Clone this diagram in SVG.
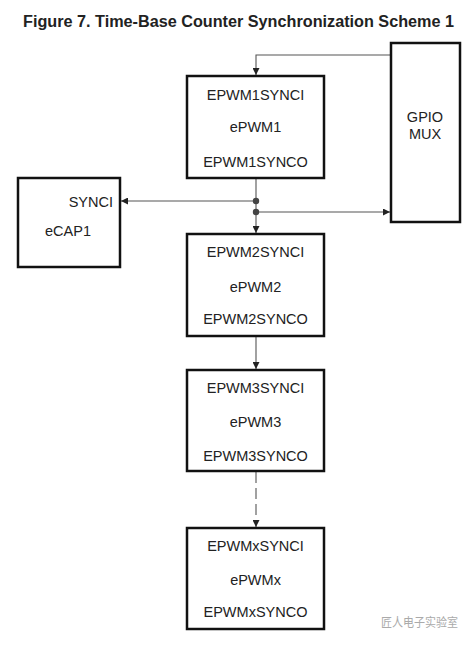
<svg xmlns="http://www.w3.org/2000/svg" width="474" height="646" viewBox="0 0 474 646">
<style>
.box{fill:#fff;stroke:#111;stroke-width:2.5}
.t{font-family:"Liberation Sans",Arial,sans-serif;font-size:14.5px;fill:#222;text-anchor:middle}
.c{fill:none;stroke:#555;stroke-width:1.1}
.title{font-family:"Liberation Sans",Arial,sans-serif;font-size:16px;font-weight:bold;fill:#222;text-anchor:middle}
.wm{font-family:"Noto Sans CJK SC",sans-serif;font-size:12.5px;fill:#aaa}
</style>
<defs>
<marker id="ah" viewBox="0 0 10 10" refX="10" refY="5" markerWidth="7" markerHeight="7" markerUnits="userSpaceOnUse" orient="auto">
<path d="M0,0 L10,5 L0,10 Z" fill="#222"/>
</marker>
</defs>
<rect width="474" height="646" fill="#fff"/>
<text class="title" x="238.5" y="27" textLength="431" lengthAdjust="spacingAndGlyphs">Figure 7. Time-Base Counter Synchronization Scheme 1</text>

<g id="connectors">
<path class="c" d="M391,55 H256 V75" marker-end="url(#ah)"/>
<path class="c" d="M256,179 V233" marker-end="url(#ah)"/>
<path class="c" d="M256,201 H121" marker-end="url(#ah)"/>
<path class="c" d="M256,212 H390" marker-end="url(#ah)"/>
<circle cx="256" cy="201" r="3.2" fill="#444"/>
<circle cx="256" cy="212" r="3.2" fill="#444"/>
<path class="c" d="M256,337 V369" marker-end="url(#ah)"/>
<path class="c" d="M256,472 V527" stroke-dasharray="11,5" marker-end="url(#ah)"/>
</g>

<g id="gpio">
<rect class="box" x="391" y="43" width="69" height="179"/>
<text class="t" x="425" y="122">GPIO</text>
<text class="t" x="425" y="139">MUX</text>
</g>

<g id="epwm1">
<rect class="box" x="187" y="76" width="137" height="102"/>
<text class="t" x="255.5" y="100">EPWM1SYNCI</text>
<text class="t" x="255.5" y="132">ePWM1</text>
<text class="t" x="255.5" y="167">EPWM1SYNCO</text>
</g>

<g id="ecap1">
<rect class="box" x="18" y="178" width="102" height="89"/>
<text class="t" x="113" y="207" style="text-anchor:end">SYNCI</text>
<text class="t" x="68" y="236">eCAP1</text>
</g>

<g id="epwm2">
<rect class="box" x="187" y="234" width="137" height="102"/>
<text class="t" x="255.5" y="257">EPWM2SYNCI</text>
<text class="t" x="255.5" y="292">ePWM2</text>
<text class="t" x="255.5" y="324">EPWM2SYNCO</text>
</g>

<g id="epwm3">
<rect class="box" x="187" y="370" width="137" height="101"/>
<text class="t" x="255.5" y="393">EPWM3SYNCI</text>
<text class="t" x="255.5" y="427">ePWM3</text>
<text class="t" x="255.5" y="461">EPWM3SYNCO</text>
</g>

<g id="epwmx">
<rect class="box" x="187" y="528" width="137" height="101"/>
<text class="t" x="255.5" y="551">EPWMxSYNCI</text>
<text class="t" x="255.5" y="585">ePWMx</text>
<text class="t" x="255.5" y="617">EPWMxSYNCO</text>
</g>

<g id="watermark">
<text class="wm" x="381" y="627" textLength="77" lengthAdjust="spacingAndGlyphs">匠人电子实验室</text>
</g>
</svg>
